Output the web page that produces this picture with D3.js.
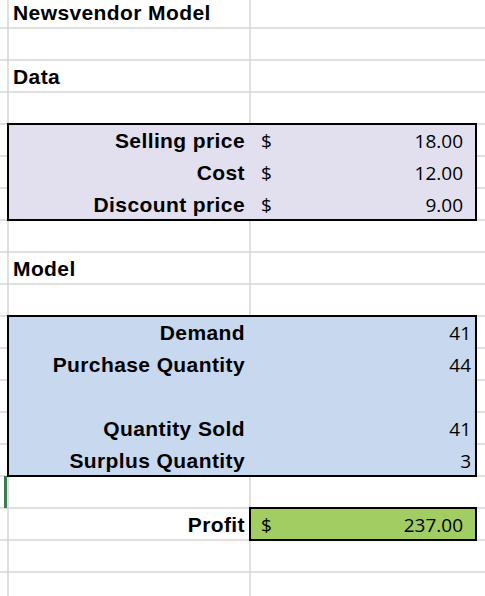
<!DOCTYPE html>
<html><head><meta charset="utf-8">
<script src="https://cdn.jsdelivr.net/npm/d3@7"></script>
<style>body{margin:0;background:#fff}</style>
</head><body>
<svg id="sheet" width="485" height="596"></svg>
<script>
// sheet content, one entry per row
var headings = [{row: 0, text: "Newsvendor Model"}, {row: 2, text: "Data"}, {row: 8, text: "Model"}];
var priceLabels = ["Selling price", "Cost", "Discount price"];
var priceValues = [18.00, 12.00, 9.00];
var modelLabels = ["Demand", "Purchase Quantity", "", "Quantity Sold", "Surplus Quantity"];
var modelValues = [41, 44, null, 41, 3];
var profitValue = 237.00;

var rowH = 32, top0 = -4, nRows = 19;
var y = d3.scaleLinear().domain([0, nRows]).range([top0, top0 + nRows * rowH]);
var x = d3.scaleLinear().domain([0, 1, 2]).range([8, 250, 476]);
var svg = d3.select("#sheet");
var lab = "Liberation Sans, Arial, sans-serif", num = "Open Sans, Carlito, sans-serif";

// grid
svg.selectAll(".h").data(d3.range(1, nRows)).enter().append("line")
    .attr("x1", 0).attr("x2", 485).attr("y1", d => y(d)).attr("y2", d => y(d))
    .attr("stroke", "#d6d6d6").attr("stroke-width", 1.5);
svg.append("rect").attr("x", 0).attr("y", 0).attr("width", x(0) - 0.5).attr("height", 596).attr("fill", "#fff");
svg.selectAll(".t").data(d3.range(1, nRows)).enter().append("line")
    .attr("x1", 0).attr("x2", x(0)).attr("y1", d => y(d)).attr("y2", d => y(d))
    .attr("stroke", "#d6d6d6").attr("stroke-width", 1.5);
[x(0), x(1)].forEach(function(v) {
    svg.append("line").attr("x1", v).attr("x2", v).attr("y1", 0).attr("y2", 596)
        .attr("stroke", "#d6d6d6").attr("stroke-width", 1.5);
});
// selected row marker
svg.append("rect").attr("x", 4).attr("y", y(15)).attr("width", 3).attr("height", rowH).attr("fill", "#3d7a4f");

function box(r0, n, c0, fill) {
    svg.append("rect").attr("x", x(c0)).attr("y", y(r0)).attr("width", x(2) - x(c0))
        .attr("height", y(r0 + n) - y(r0)).attr("fill", fill).attr("stroke", "#000").attr("stroke-width", 2);
}
box(4, 3, 0, "#e2e0ee");
box(10, 5, 0, "#c8d9ef");
box(16, 1, 1, "#a1cd63");

function text(t, xx, row, anchor, font, weight) {
    var el = svg.append("text").attr("x", xx).attr("y", y(row) + 24).attr("text-anchor", anchor)
        .attr("font-family", font).attr("font-weight", weight).attr("font-size", font == lab ? 21 : 19)
        .text(t);
    if (font == lab) el.attr("letter-spacing", 0.4);
}
headings.forEach(d => text(d.text, 13, d.row, "start", lab, "bold"));
var fmt = d3.format(".2f");
priceLabels.forEach(function(d, i) {
    text(d, 245, 4 + i, "end", lab, "bold");
    text("$", 261, 4 + i, "start", num, "normal");
    text(fmt(priceValues[i]), 463, 4 + i, "end", num, "normal");
});
modelLabels.forEach(function(d, i) {
    if (d) text(d, 245, 10 + i, "end", lab, "bold");
    if (modelValues[i] != null) text(modelValues[i], 471, 10 + i, "end", num, "normal");
});
text("Profit", 245, 16, "end", lab, "bold");
text("$", 261, 16, "start", num, "normal");
text(fmt(profitValue), 463, 16, "end", num, "normal");
</script>
</body></html>
